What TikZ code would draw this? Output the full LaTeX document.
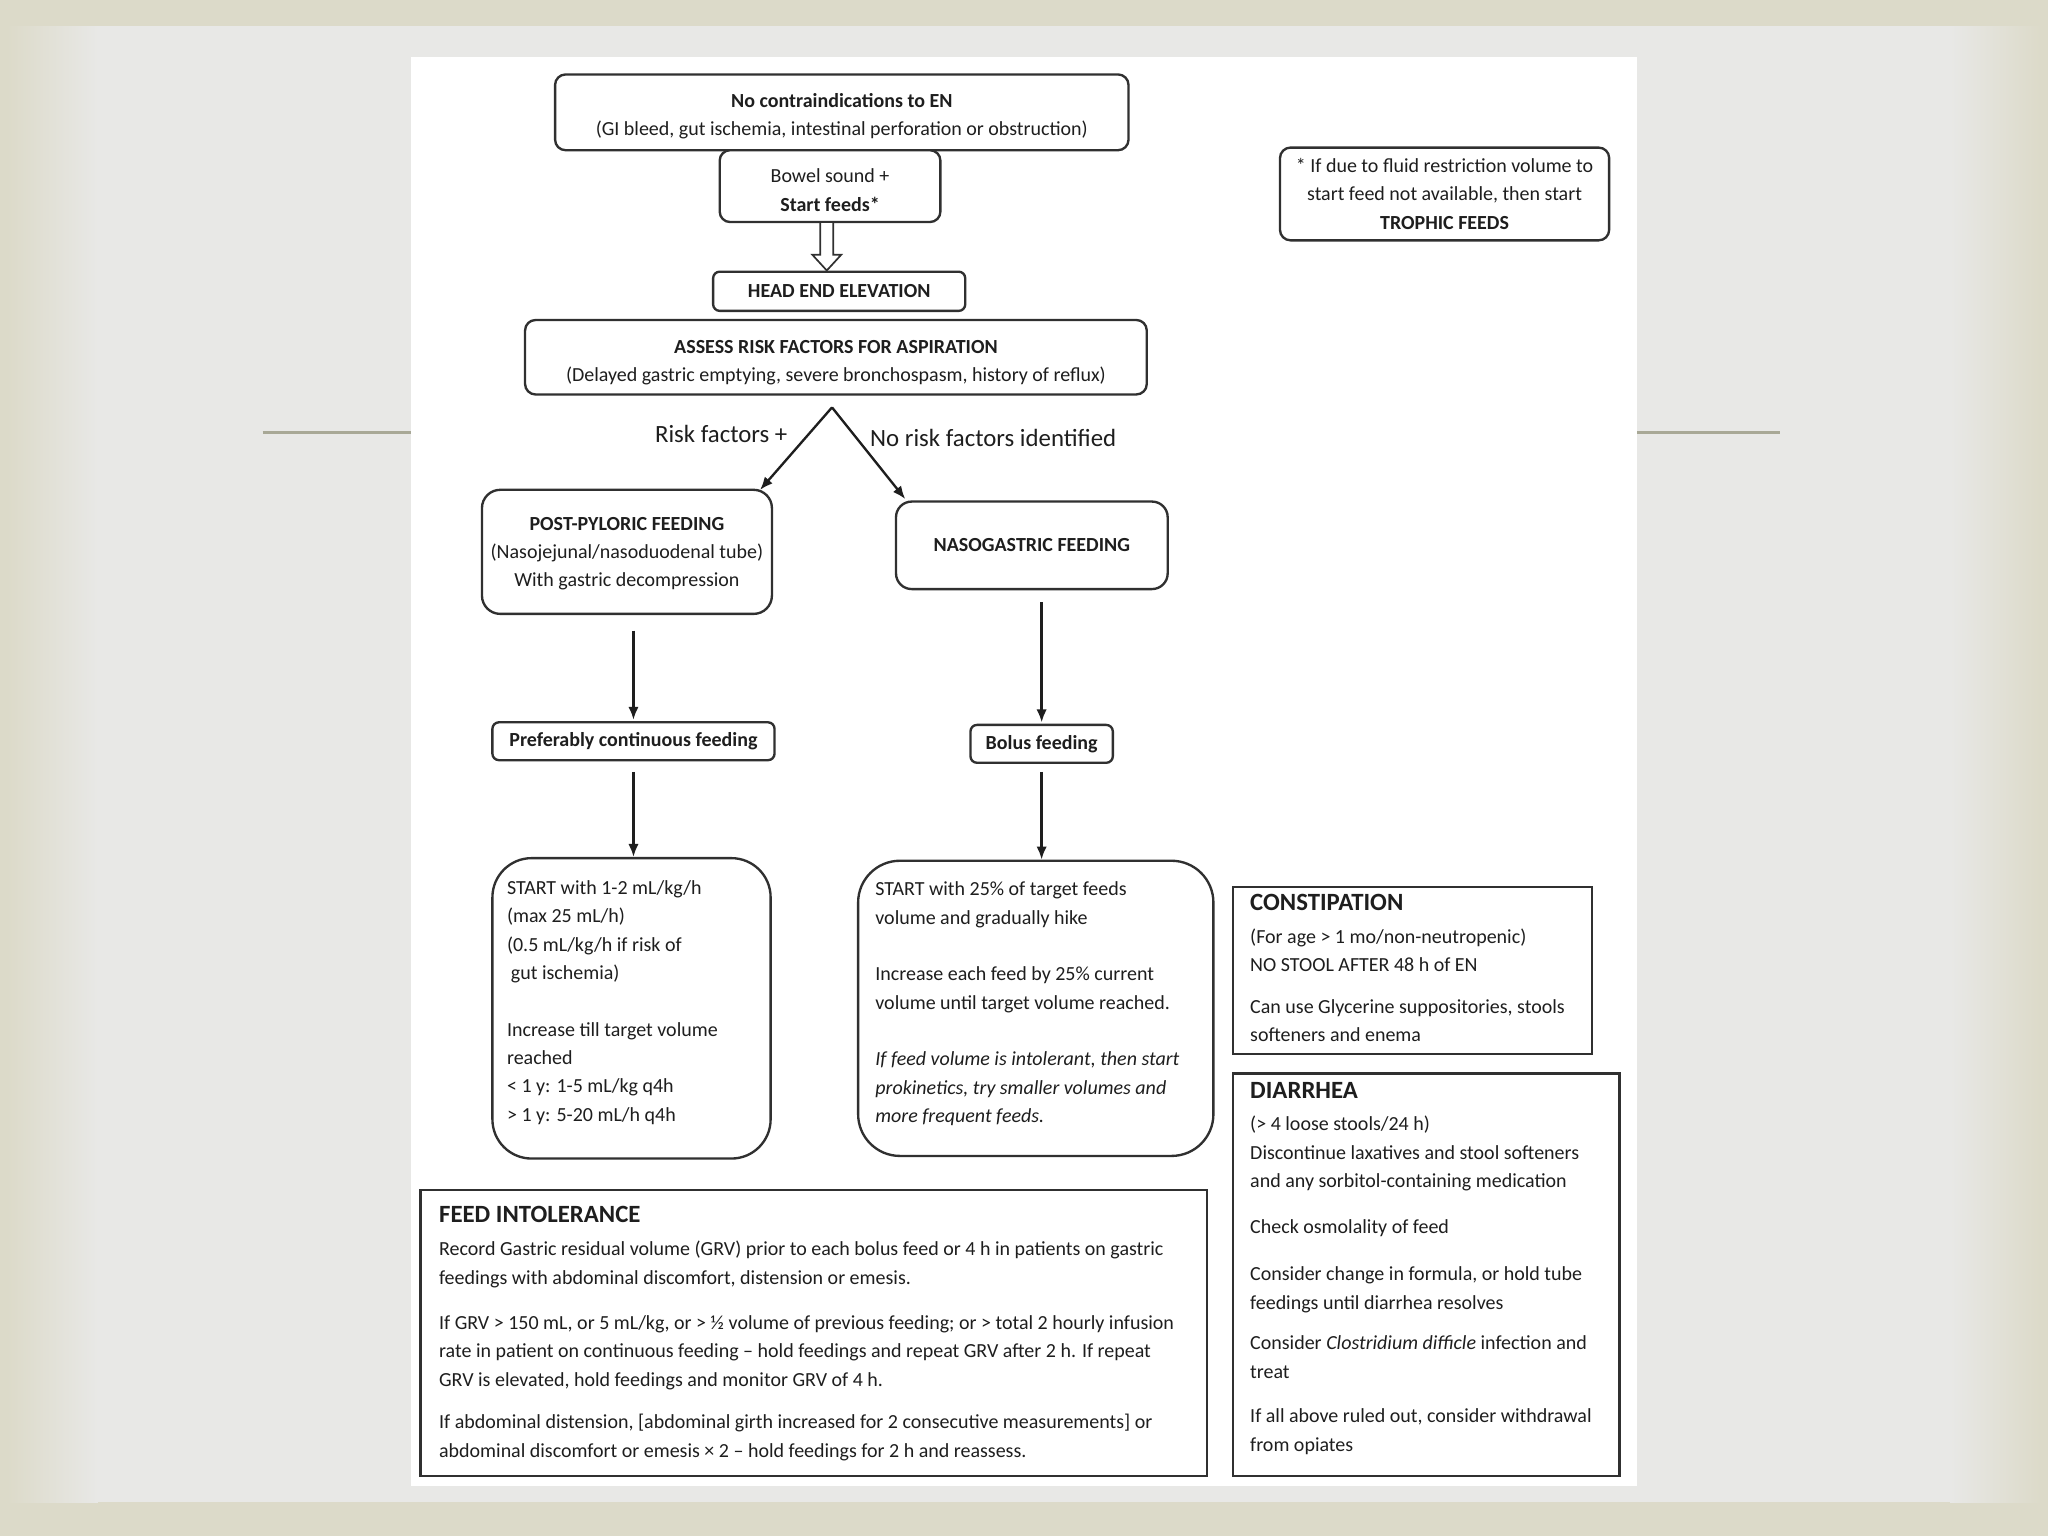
\documentclass[tikz,border=0pt]{standalone}
\usepackage{fontspec}
\setmainfont{Carlito}
\usetikzlibrary{arrows.meta,calc}
\definecolor{beige}{HTML}{DCDAC9}
\definecolor{slate}{HTML}{E8E8E6}
\definecolor{rulec}{HTML}{A8A896}
\definecolor{ink}{HTML}{1E1E1E}
\definecolor{edge}{HTML}{303030}
\newcommand\dnstrut{\rule{0pt}{17pt}}
\begin{document}
\begin{tikzpicture}[x=1pt,y=-1pt,
  every node/.style={text=ink, font=\fontsize{15.3}{21.7}\selectfont},
  rbox/.style={draw=edge, line width=1.8pt, rounded corners=8pt, fill=white, inner sep=0pt, align=center},
  sbox/.style={draw=edge, line width=1.9pt, inner sep=0pt},
  txt/.style={inner sep=0pt, align=left, anchor=north west},
  hdr/.style={inner sep=0pt, anchor=west, font=\fontsize{19}{23}\selectfont\bfseries},
  lbl/.style={inner sep=0pt, font=\fontsize{19}{23}\selectfont},
  arr/.style={draw=ink, line width=1.8pt, -{Latex[length=10pt,width=8pt]}}
]
\useasboundingbox (0,0) rectangle (1568,1176);
% slide background
\fill[beige] (0,0) rectangle (1568,1176);
\shade[left color=beige, right color=slate] (5,20) rectangle (75,1150);
\shade[left color=slate, right color=beige] (1493,20) rectangle (1563,1150);
\fill[slate] (75,20) rectangle (1493,1150);
\draw[rulec, line width=2pt] (201,331) -- (315,331);
\draw[rulec, line width=2pt] (1253,331) -- (1363,331);
% scanned page
\fill[white] (315,44) rectangle (1253,1138);

% flow boxes
\node[rbox, minimum width=439pt, minimum height=58pt] (top) at (644.5,86)
  {\dnstrut\textbf{No contraindications to EN}\\(GI bleed, gut ischemia, intestinal perforation or obstruction)};
\node[rbox, minimum width=169pt, minimum height=55pt] (bowel) at (635.5,142.5)
  {\dnstrut Bowel sound +\\\textbf{Start feeds*}};
\node[rbox, rounded corners=5pt, minimum width=193pt, minimum height=30pt] (head) at (642.5,223)
  {\textbf{HEAD END ELEVATION}};
\node[rbox, minimum width=476pt, minimum height=57pt] (assess) at (640,273.5)
  {\rule{0pt}{18pt}\textbf{ASSESS RISK FACTORS FOR ASPIRATION}\\(Delayed gastric emptying, severe bronchospasm, history of reflux)};
\node[rbox, rounded corners=14pt, minimum width=222pt, minimum height=95pt] (post) at (480,422.5)
  {\rule{0pt}{13pt}\textbf{POST-PYLORIC FEEDING}\\(Nasojejunal/nasoduodenal tube)\\With gastric decompression};
\node[rbox, rounded corners=12pt, minimum width=208pt, minimum height=67pt] (naso) at (790,417.5)
  {\textbf{NASOGASTRIC FEEDING}};
\node[rbox, rounded corners=5pt, minimum width=216pt, minimum height=29pt] (pref) at (485,567.5)
  {\textbf{Preferably continuous feeding}};
\node[rbox, rounded corners=5pt, minimum width=109pt, minimum height=29pt] (bolus) at (797.5,569.5)
  {\textbf{Bolus feeding}};
\node[rbox, rounded corners=30pt, minimum width=213pt, minimum height=230pt] (startL) at (483.5,772) {};
\node[rbox, rounded corners=32pt, minimum width=272pt, minimum height=226pt] (startR) at (793,772) {};
\node[sbox, minimum width=275pt, minimum height=128pt] (const) at (1081.5,743) {};
\node[sbox, minimum width=296pt, minimum height=308pt] (diar) at (1092,976) {};
\node[sbox, minimum width=602pt, minimum height=219pt] (feed) at (623,1020.5) {};
\node[rbox, minimum width=252pt, minimum height=71pt] (troph) at (1106,148.5)
  {* If due to fluid restriction volume to\\start feed not available, then start\\\textbf{TROPHIC FEEDS}};

% texts inside the large boxes
\node[txt] (startLt) at (388,674)
  {START with 1-2 mL/kg/h\\(max 25 mL/h)\\(0.5 mL/kg/h if risk of\\\hspace*{3pt}gut ischemia)\\[21.7pt]
   Increase till target volume\\reached\\< 1 y: 1-5 mL/kg q4h\\> 1 y: 5-20 mL/h q4h};
\node[txt] (startRt) at (670,675)
  {START with 25\% of target feeds\\volume and gradually hike\\[21.7pt]
   Increase each feed by 25\% current\\volume until target volume reached.\\[21.7pt]
   \itshape If feed volume is intolerant, then start\\\itshape prokinetics, try smaller volumes and\\\itshape more frequent feeds.};
\node[hdr] (consth) at (957,691) {CONSTIPATION};
\node[txt] (constt) at (957,711)
  {(For age > 1 mo/non-neutropenic)\\NO STOOL AFTER 48 h of EN\\[10pt]
   Can use Glycerine suppositories, stools\\softeners and enema};
\node[hdr] (diarh) at (957,835) {DIARRHEA};
\node[txt, font=\fontsize{15.3}{22}\selectfont] (diart) at (957,854)
  {(> 4 loose stools/24 h)\\Discontinue laxatives and stool softeners\\and any sorbitol-containing medication\\[13pt]
   Check osmolality of feed\\[14pt]
   Consider change in formula, or hold tube\\feedings until diarrhea resolves\\[9pt]
   Consider \textit{Clostridium difficle} infection and\\treat\\[12pt]
   If all above ruled out, consider withdrawal\\from opiates};
\node[hdr] (feedh) at (336,930) {FEED INTOLERANCE};
\node[txt] (feedt) at (336,950)
  {Record Gastric residual volume (GRV) prior to each bolus feed or 4 h in patients on gastric\\
   feedings with abdominal discomfort, distension or emesis.\\[13pt]
   If GRV > 150 mL, or 5 mL/kg, or > ½ volume of previous feeding; or > total 2 hourly infusion\\
   rate in patient on continuous feeding – hold feedings and repeat GRV after 2 h. If repeat\\
   GRV is elevated, hold feedings and monitor GRV of 4 h.\\[11pt]
   If abdominal distension, [abdominal girth increased for 2 consecutive measurements] or\\
   abdominal discomfort or emesis × 2 – hold feedings for 2 h and reassess.};

% hollow arrow
\coordinate (ha) at ($(bowel.south)+(-2.5,0)$);
\coordinate (hb) at (ha |- head.north);
\draw[edge, line width=1.3pt, fill=white, line join=miter]
  ($(ha)+(-5,0)$) -- ($(hb)+(-5,-12)$) -- ($(hb)+(-11,-12)$) -- (hb)
  -- ($(hb)+(11,-12)$) -- ($(hb)+(5,-12)$) -- ($(ha)+(5,0)$);

% split arrows
\coordinate (apex) at ($(assess.south)+(-3,9)$);
\draw[arr] (apex) -- ($(post.north east)+(-10,1)$);
\draw[arr] (apex) -- ($(naso.north west)+(8,-1)$);
\node[lbl, anchor=east] (rf) at (603,332) {Risk factors +};
\node[lbl, anchor=west] (nrf) at (666,335) {No risk factors identified};

% vertical arrows
\draw[arr, shorten <=12pt, shorten >=1pt] (pref.north |- post.south) -- (pref.north);
\draw[arr, shorten <=9pt, shorten >=1pt] (bolus.north |- naso.south) -- (bolus.north);
\draw[arr, shorten <=8pt] (pref.south) -- (pref.south |- startL.north);
\draw[arr, shorten <=6pt] (bolus.south) -- (bolus.south |- startR.north);
\end{tikzpicture}
\end{document}
